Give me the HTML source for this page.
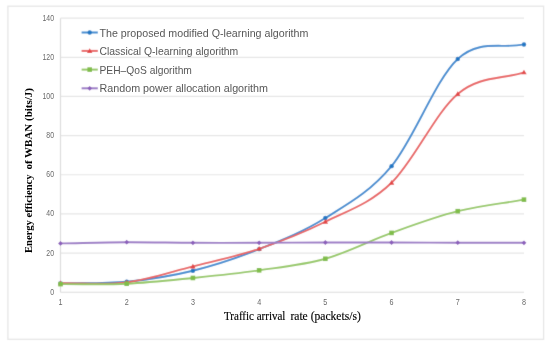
<!DOCTYPE html>
<html><head><meta charset="utf-8"><title>Energy efficiency chart</title>
<style>
html,body{margin:0;padding:0;background:#fff;}
body{width:550px;height:347px;overflow:hidden;}
svg{display:block;}
.tick{font-family:"Liberation Sans",sans-serif;font-size:8.4px;fill:#6a6a6a;}
.leg{font-family:"Liberation Sans",sans-serif;font-size:11.2px;fill:#575757;}
.xt{font-family:"Liberation Serif",serif;font-size:12.2px;fill:#000;stroke:#000;stroke-width:0.15px;white-space:pre;}
.yt{font-family:"Liberation Serif",serif;font-size:11.4px;font-weight:bold;fill:#000;}
</style></head>
<body>
<svg width="550" height="347" viewBox="0 0 550 347">
<defs><filter id="soft" x="0" y="0" width="550" height="347" filterUnits="userSpaceOnUse"><feConvolveMatrix order="3" kernelMatrix="0.02 0.07 0.02 0.07 0.64 0.07 0.02 0.07 0.02" edgeMode="duplicate"/></filter></defs>
<rect width="550" height="347" fill="#fff"/>
<g filter="url(#soft)">
<rect width="550" height="347" fill="#fff"/>
<rect x="7.9" y="6.2" width="535.7" height="333.1" fill="none" stroke="#e6e6e6" stroke-width="1.3"/>
<line x1="60.5" y1="253.09" x2="524.0" y2="253.09" stroke="#e6e6e6" stroke-width="1.2"/>
<line x1="60.5" y1="213.93" x2="524.0" y2="213.93" stroke="#e6e6e6" stroke-width="1.2"/>
<line x1="60.5" y1="174.77" x2="524.0" y2="174.77" stroke="#e6e6e6" stroke-width="1.2"/>
<line x1="60.5" y1="135.61" x2="524.0" y2="135.61" stroke="#e6e6e6" stroke-width="1.2"/>
<line x1="60.5" y1="96.45" x2="524.0" y2="96.45" stroke="#e6e6e6" stroke-width="1.2"/>
<line x1="60.5" y1="57.29" x2="524.0" y2="57.29" stroke="#e6e6e6" stroke-width="1.2"/>
<line x1="60.5" y1="18.13" x2="524.0" y2="18.13" stroke="#e6e6e6" stroke-width="1.2"/>
<line x1="60.5" y1="18.13" x2="60.5" y2="292.25" stroke="#dcdcdc" stroke-width="1.2"/>
<line x1="60.5" y1="292.25" x2="524.0" y2="292.25" stroke="#dcdcdc" stroke-width="1.2"/>
<path d="M60.50,283.44 C82.57,282.85 104.64,283.80 126.71,281.68 C148.78,279.56 170.85,276.13 192.92,270.71 C214.99,265.29 237.06,257.95 259.13,249.17 C281.20,240.40 303.27,231.88 325.34,218.04 C347.41,204.21 369.48,192.67 391.55,166.15 C413.62,139.64 435.69,79.22 457.76,58.93 C479.83,38.65 501.90,49.26 523.97,44.43" fill="none" stroke="#3d8bd0" stroke-width="1.9" stroke-linecap="round"/>
<circle cx="60.50" cy="283.44" r="2.2" fill="#1f78c4"/>
<circle cx="126.71" cy="281.68" r="2.2" fill="#1f78c4"/>
<circle cx="192.92" cy="270.71" r="2.2" fill="#1f78c4"/>
<circle cx="259.13" cy="249.17" r="2.2" fill="#1f78c4"/>
<circle cx="325.34" cy="218.04" r="2.2" fill="#1f78c4"/>
<circle cx="391.55" cy="166.15" r="2.2" fill="#1f78c4"/>
<circle cx="457.76" cy="58.93" r="2.2" fill="#1f78c4"/>
<circle cx="523.97" cy="44.43" r="2.2" fill="#1f78c4"/>
<path d="M60.50,283.24 C82.57,282.98 104.64,285.27 126.71,282.46 C148.78,279.65 170.85,272.02 192.92,266.40 C214.99,260.79 237.06,256.22 259.13,248.78 C281.20,241.34 303.27,232.76 325.34,221.76 C347.41,210.76 369.48,204.11 391.55,182.80 C413.62,161.49 435.69,112.31 457.76,93.90 C479.83,75.50 501.90,79.55 523.97,72.37" fill="none" stroke="#e86262" stroke-width="1.9" stroke-linecap="round"/>
<polygon points="60.50,280.54 63.20,285.24 57.80,285.24" fill="#e24444"/>
<polygon points="126.71,279.76 129.41,284.46 124.01,284.46" fill="#e24444"/>
<polygon points="192.92,263.70 195.62,268.40 190.22,268.40" fill="#e24444"/>
<polygon points="259.13,246.08 261.83,250.78 256.43,250.78" fill="#e24444"/>
<polygon points="325.34,219.06 328.04,223.76 322.64,223.76" fill="#e24444"/>
<polygon points="391.55,180.10 394.25,184.80 388.85,184.80" fill="#e24444"/>
<polygon points="457.76,91.20 460.46,95.90 455.06,95.90" fill="#e24444"/>
<polygon points="523.97,69.67 526.67,74.37 521.27,74.37" fill="#e24444"/>
<path d="M60.50,284.12 C82.57,283.99 104.64,284.76 126.71,283.73 C148.78,282.70 170.85,280.19 192.92,277.96 C214.99,275.72 237.06,273.52 259.13,270.32 C281.20,267.12 303.27,265.00 325.34,258.77 C347.41,252.54 369.48,240.85 391.55,232.92 C413.62,224.99 435.69,216.74 457.76,211.19 C479.83,205.64 501.90,203.49 523.97,199.64" fill="none" stroke="#96c866" stroke-width="1.9" stroke-linecap="round"/>
<rect x="58.20" y="281.82" width="4.6" height="4.6" fill="#80bd48"/>
<rect x="124.41" y="281.43" width="4.6" height="4.6" fill="#80bd48"/>
<rect x="190.62" y="275.66" width="4.6" height="4.6" fill="#80bd48"/>
<rect x="256.83" y="268.02" width="4.6" height="4.6" fill="#80bd48"/>
<rect x="323.04" y="256.47" width="4.6" height="4.6" fill="#80bd48"/>
<rect x="389.25" y="230.62" width="4.6" height="4.6" fill="#80bd48"/>
<rect x="455.46" y="208.89" width="4.6" height="4.6" fill="#80bd48"/>
<rect x="521.67" y="197.34" width="4.6" height="4.6" fill="#80bd48"/>
<path d="M60.50,243.40 C82.57,243.01 104.64,242.32 126.71,242.22 C148.78,242.13 170.85,242.71 192.92,242.81 C214.99,242.91 237.06,242.86 259.13,242.81 C281.20,242.76 303.27,242.57 325.34,242.52 C347.41,242.47 369.48,242.48 391.55,242.52 C413.62,242.55 435.69,242.66 457.76,242.71 C479.83,242.76 501.90,242.78 523.97,242.81" fill="none" stroke="#9c7cc6" stroke-width="1.9" stroke-linecap="round"/>
<polygon points="60.50,241.00 62.90,243.40 60.50,245.80 58.10,243.40" fill="#8a5cba"/>
<polygon points="126.71,239.82 129.11,242.22 126.71,244.62 124.31,242.22" fill="#8a5cba"/>
<polygon points="192.92,240.41 195.32,242.81 192.92,245.21 190.52,242.81" fill="#8a5cba"/>
<polygon points="259.13,240.41 261.53,242.81 259.13,245.21 256.73,242.81" fill="#8a5cba"/>
<polygon points="325.34,240.12 327.74,242.52 325.34,244.92 322.94,242.52" fill="#8a5cba"/>
<polygon points="391.55,240.12 393.95,242.52 391.55,244.92 389.15,242.52" fill="#8a5cba"/>
<polygon points="457.76,240.31 460.16,242.71 457.76,245.11 455.36,242.71" fill="#8a5cba"/>
<polygon points="523.97,240.41 526.37,242.81 523.97,245.21 521.57,242.81" fill="#8a5cba"/>
<line x1="81.6" y1="32.5" x2="97.8" y2="32.5" stroke="#3d8bd0" stroke-width="2"/>
<circle cx="89.70" cy="32.50" r="2.2" fill="#1f78c4"/>
<line x1="81.6" y1="50.9" x2="97.8" y2="50.9" stroke="#e86262" stroke-width="2"/>
<polygon points="89.70,48.20 92.40,52.90 87.00,52.90" fill="#e24444"/>
<line x1="81.6" y1="69.6" x2="97.8" y2="69.6" stroke="#96c866" stroke-width="2"/>
<rect x="87.40" y="67.30" width="4.6" height="4.6" fill="#80bd48"/>
<line x1="81.6" y1="88.3" x2="97.8" y2="88.3" stroke="#9c7cc6" stroke-width="2"/>
<polygon points="89.70,85.90 92.10,88.30 89.70,90.70 87.30,88.30" fill="#8a5cba"/>
</g>
<text transform="translate(54,294.70) scale(0.82,1)" text-anchor="end" class="tick">0</text>
<text transform="translate(54,255.54) scale(0.82,1)" text-anchor="end" class="tick">20</text>
<text transform="translate(54,216.38) scale(0.82,1)" text-anchor="end" class="tick">40</text>
<text transform="translate(54,177.22) scale(0.82,1)" text-anchor="end" class="tick">60</text>
<text transform="translate(54,138.06) scale(0.82,1)" text-anchor="end" class="tick">80</text>
<text transform="translate(54,98.90) scale(0.82,1)" text-anchor="end" class="tick">100</text>
<text transform="translate(54,59.74) scale(0.82,1)" text-anchor="end" class="tick">120</text>
<text transform="translate(54,20.58) scale(0.82,1)" text-anchor="end" class="tick">140</text>
<text transform="translate(60.50,304.55) scale(0.86,1)" text-anchor="middle" class="tick">1</text>
<text transform="translate(126.71,304.55) scale(0.86,1)" text-anchor="middle" class="tick">2</text>
<text transform="translate(192.92,304.55) scale(0.86,1)" text-anchor="middle" class="tick">3</text>
<text transform="translate(259.13,304.55) scale(0.86,1)" text-anchor="middle" class="tick">4</text>
<text transform="translate(325.34,304.55) scale(0.86,1)" text-anchor="middle" class="tick">5</text>
<text transform="translate(391.55,304.55) scale(0.86,1)" text-anchor="middle" class="tick">6</text>
<text transform="translate(457.76,304.55) scale(0.86,1)" text-anchor="middle" class="tick">7</text>
<text transform="translate(523.97,304.55) scale(0.86,1)" text-anchor="middle" class="tick">8</text>
<text x="99.5" y="36.60" class="leg" textLength="208.9" lengthAdjust="spacingAndGlyphs">The proposed modified Q-learning algorithm</text>
<text x="99.5" y="55.00" class="leg" textLength="138.8" lengthAdjust="spacingAndGlyphs">Classical Q-learning algorithm</text>
<text x="99.5" y="73.70" class="leg" textLength="92.4" lengthAdjust="spacingAndGlyphs">PEH–QoS algorithm</text>
<text x="99.5" y="92.40" class="leg" textLength="168.5" lengthAdjust="spacingAndGlyphs">Random power allocation algorithm</text>
<text x="224.0" y="319.8" class="xt" textLength="61.4" lengthAdjust="spacingAndGlyphs">Traffic arrival</text>
<text x="290.4" y="319.8" class="xt" textLength="70.4" lengthAdjust="spacingAndGlyphs">rate (packets/s)</text>
<text transform="translate(32.4,253.1) rotate(-90)" x="0" y="0" class="yt" textLength="78.7" lengthAdjust="spacingAndGlyphs">Energy efficiency</text>
<text transform="translate(32.4,169.6) rotate(-90)" x="0" y="0" class="yt" textLength="81.6" lengthAdjust="spacingAndGlyphs">of WBAN (bits/J)</text>
</svg>
</body></html>
